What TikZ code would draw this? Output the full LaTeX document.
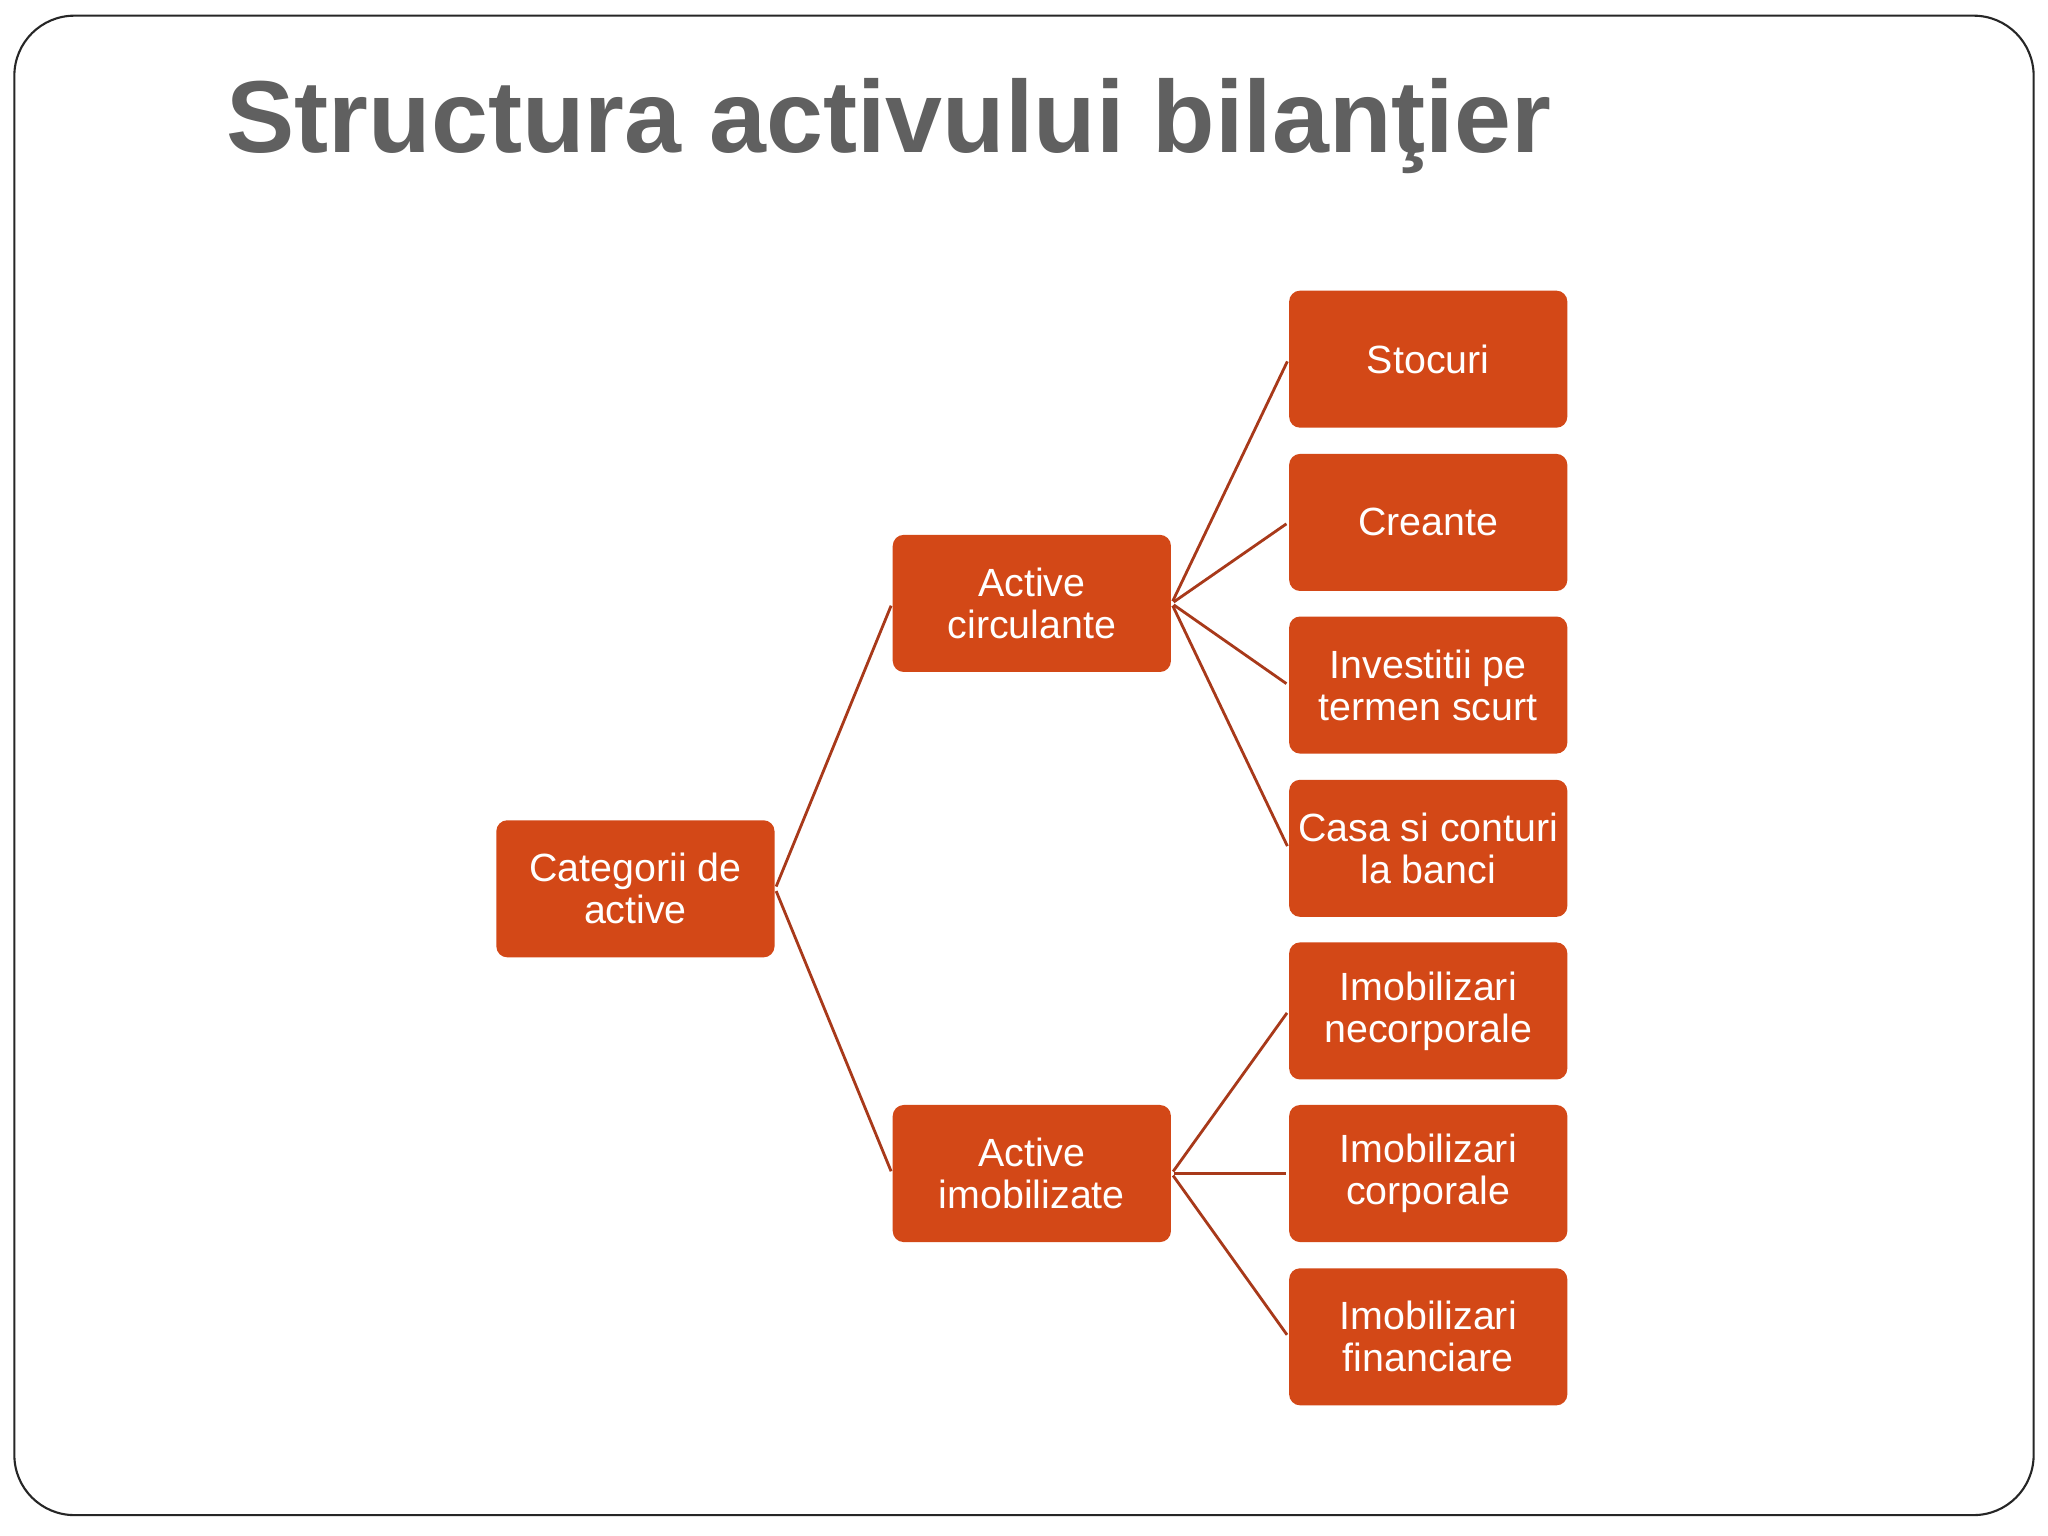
\documentclass[tikz,border=0pt]{standalone}
\usepackage{fontspec}
\setmainfont{Liberation Sans}
\definecolor{boxfill}{HTML}{D34817}
\definecolor{linkcol}{HTML}{A8391A}
\definecolor{titlegray}{HTML}{606060}
\begin{document}
\begin{tikzpicture}[x=0.013061cm,y=-0.013061cm,
  catbox/.style={draw=none,fill=boxfill,rounded corners=0.11cm,minimum width=2.782cm,minimum height=1.371cm,
    inner sep=0pt,text=white,align=center,font=\fontsize{11.2}{11.9}\selectfont},
  link/.style={draw=linkcol,line width=0.8pt,shorten <=0.7pt,shorten >=0.7pt}]
\useasboundingbox (0,0) rectangle (1568,1176);
\fill[white] (0,0) rectangle (1568,1176);
\draw[line width=0.6pt,black!85] (11,12) [rounded corners=0.6cm] rectangle (1557,1160);
\node[anchor=base west,inner sep=0pt,text=titlegray,font=\fontsize{29.1}{32}\selectfont\bfseries] (title) at (173,117) {Structura activului bilanţier};
\node[catbox] (root) at (486.5,680.5) {Categorii de\\active};
\node[catbox] (circ) at (790,462) {Active\\circulante};
\node[catbox] (imob) at (790,898.5) {Active\\imobilizate};
\node[catbox] (stoc) at (1093.5,275) {Stocuri};
\node[catbox] (crea) at (1093.5,400) {Creante};
\node[catbox] (inv) at (1093.5,524.5) {Investitii pe\\termen scurt};
\node[catbox] (casa) at (1093.5,649.5) {Casa si conturi\\la banci};
\node[catbox] (necorp) at (1093.5,774) {Imobilizari\\necorporale};
\node[catbox] (corp) at (1093.5,898.5) {Imobilizari\\corporale};
\node[catbox] (fin) at (1093.5,1023.5) {Imobilizari\\financiare};
\draw[link] (root.east) -- (circ.west);
\draw[link] (root.east) -- (imob.west);
\foreach \c in {stoc,crea,inv,casa} \draw[link] (circ.east) -- (\c.west);
\foreach \c in {necorp,corp,fin} \draw[link] (imob.east) -- (\c.west);
\end{tikzpicture}
\end{document}
